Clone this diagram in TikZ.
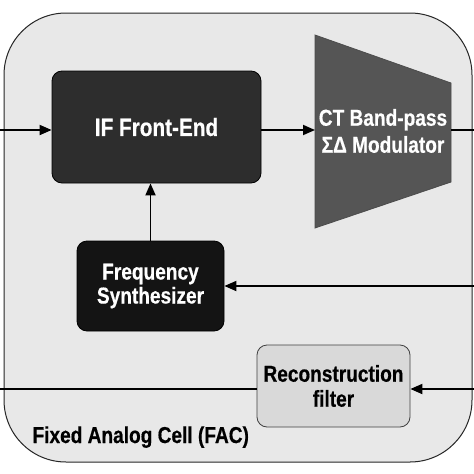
\documentclass[tikz,border=0pt]{standalone}
\usepackage{fontspec}
\setmainfont{Liberation Sans}[FakeStretch=0.83, BoldFeatures={FakeBold=0.5}]
\usetikzlibrary{arrows.meta}

\definecolor{cellgray}{HTML}{E8E8E8}
\definecolor{frontgray}{HTML}{2D2D2D}
\definecolor{modgray}{HTML}{555555}
\definecolor{filtgray}{HTML}{D9D9D9}

\tikzset{
  block/.style={draw=black, line width=0.8pt, rounded corners=10pt, align=center,
    font=\fontsize{23}{25}\selectfont\bfseries},
  darkblock/.style={block, fill=#1, text=white},
  link/.style={line width=1.8pt, -{Triangle[length=12pt,width=10pt]}},
  wire/.style={line width=1.8pt}
}

\begin{document}
\begin{tikzpicture}[x=1pt,y=-1pt]
  \useasboundingbox (0,0) rectangle (474,474);

  % the cell
  \draw[fill=cellgray, draw=black!85, line width=1pt, rounded corners=62pt] (4,13) rectangle (472,462);

  % blocks
  \node[darkblock=frontgray, minimum width=209pt, minimum height=112pt,
    font=\fontsize{25}{28}\selectfont\bfseries] (ife) at (156.5,127) {IF Front-End};
  \draw[fill=modgray, draw=black!70, line width=0.8pt]
    (315,35) -- (451,83) -- (451,182) -- (315,228) -- cycle;
  \node[align=center, text=white, font=\fontsize{23}{27}\selectfont\bfseries] (mod) at (383,131)
    {CT Band-pass\\ΣΔ Modulator};
  \node[darkblock=black!92, minimum width=147pt, minimum height=90pt,
    font=\fontsize{23}{24}\selectfont\bfseries] (fs) at (150.5,286)
    {Frequency\\Synthesizer};
  \node[block, draw=black!75, fill=filtgray, minimum width=153pt, minimum height=82pt] (rf) at (333.5,386)
    {Reconstruction\\filter};

  \node[anchor=base west, font=\fontsize{23}{26}\selectfont\bfseries] (fac) at (29,443) {Fixed Analog Cell (FAC)};

  % ends of the wires
  \coordinate (in) at (0,130);
  \coordinate (modin) at (315,130);
  \coordinate (modout) at (451,130);
  \coordinate (out) at (474,130);
  \coordinate (fsin) at (474,286);
  \coordinate (rfin) at (474,389);
  \coordinate (rfout) at (0,389);

  \draw[link] (in) -- (in -| ife.west);
  \draw[link] (ife.east |- modin) -- (modin);
  \draw[wire] (modout) -- (out);
  \draw[link] (fs.north) -- (fs.north |- ife.south);
  \draw[link] (fsin) -- (fs.east);
  \draw[link] (rfin) -- (rfin -| rf.east);
  \draw[wire] (rfin -| rf.west) -- (rfout);
\end{tikzpicture}
\end{document}
